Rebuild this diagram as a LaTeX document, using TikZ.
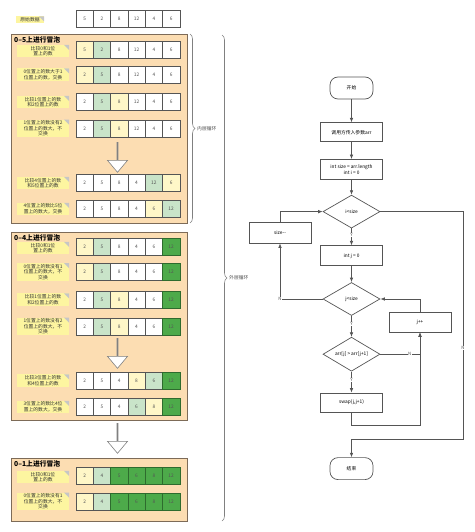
\documentclass[tikz,border=0pt]{standalone}
\usepackage{fontspec}
\setmainfont{Noto Sans CJK SC}
\usetikzlibrary{positioning,shapes.geometric,shapes.arrows,decorations.pathreplacing,arrows.meta}

\definecolor{boxfill}{HTML}{FCDDB2}
\definecolor{boxline}{HTML}{7D6B58}
\definecolor{notefill}{HTML}{FDF5A0}
\definecolor{celly}{HTML}{FFF7C8}
\definecolor{cellg}{HTML}{C9E4C9}
\definecolor{celld}{HTML}{4DAA4A}
\definecolor{celldk}{HTML}{2E6B2E}
\definecolor{linegray}{HTML}{555555}

\newcommand\smallcjk{\fontsize{4.8}{5.6}\selectfont}
\newcommand\cellrow[3]{%
  \foreach \v/\c [count=\k] in {#3}
    \node (#1-\k) [cell, \c] at ({67.35+17.3*\k}, #2) {\v};
}

\begin{document}
\begin{tikzpicture} [
    x=1pt, y=-1pt,
    cell/.style   = {draw=linegray, line width=0.6pt,
                     minimum width=17.3pt, minimum height=17pt,
                     inner sep=0pt, text=linegray, font=\smallcjk},
    cw/.style     = {fill=white},
    cy/.style     = {fill=celly},
    cg/.style     = {fill=cellg},
    cd/.style     = {fill=celld, draw=celldk},
    stage/.style  = {draw=boxline, fill=boxfill, line width=0.8pt,
                     inner sep=0pt},
    stagetitle/.style = {anchor=north west, inner sep=0pt,
                     font=\fontsize{6.8}{8}\selectfont\bfseries},
    note/.style   = {fill=notefill, text width=50pt, align=center,
                     inner sep=1pt, font=\smallcjk, text=black!80,
                     path picture={\fill[gray!45]
                       ([xshift=-5pt]path picture bounding box.north east) --
                       (path picture bounding box.north east) --
                       ([yshift=-5pt]path picture bounding box.north east) -- cycle;}},
    step arrow/.style = {single arrow, shape border rotate=270, draw=gray,
                     fill=white, line width=0.6pt, minimum height=30pt,
                     minimum width=20pt, single arrow head extend=5.5pt,
                     single arrow tip angle=80, inner sep=0pt},
    brace/.style  = {draw=gray, line width=0.6pt, decorate,
                     decoration={brace, amplitude=5pt}},
    side/.style   = {right, inner sep=1pt, font=\smallcjk, text=black!70},
    term/.style   = {draw=linegray, line width=0.7pt, rounded corners=8pt,
                     minimum width=43pt, minimum height=22pt, font=\smallcjk},
    proc/.style   = {draw=linegray, line width=0.7pt, minimum width=62pt,
                     minimum height=19pt, align=center, font=\smallcjk},
    dec/.style    = {draw=linegray, line width=0.7pt, diamond, aspect=1.7,
                     minimum width=57pt, minimum height=33pt, inner sep=0pt,
                     font=\smallcjk},
    arr/.style    = {draw=linegray, line width=0.7pt,
                     -{Latex[length=4.5pt,width=3.6pt]}},
    lbl/.style    = {fill=white, inner sep=0.5pt, text=linegray,
                     font=\fontsize{4.4}{5}\selectfont}
]
\useasboundingbox (0,0) rectangle (474,532);

% original data
\node (norig) [note, text width=26pt] at (30,19.5) {原始数据};
\cellrow{orig}{18.5}{5/cw,2/cw,8/cw,12/cw,4/cw,6/cw}

% pass 0-5
\node (boxa) [stage, minimum width=176pt, minimum height=189pt] at (99,128.5) {};
\node (na1) [note] at (43,51)    {比较0和1位\\置上的数};
\cellrow{a1}{50}{5/cy,2/cg,8/cw,12/cw,4/cw,6/cw}
\node (na2) [note] at (43,74.5)  {0位置上的数大于1\\位置上的数，交换};
\cellrow{a2}{74.5}{2/cy,5/cg,8/cw,12/cw,4/cw,6/cw}
\node (na3) [note] at (43,102)   {比较1位置上的数\\和2位置上的数};
\cellrow{a3}{102}{2/cw,5/cg,8/cy,12/cw,4/cw,6/cw}
\node (na4) [note] at (43,128.5) {1位置上的数没有2\\位置上的数大，不\\交换};
\cellrow{a4}{128.5}{2/cw,5/cg,8/cy,12/cw,4/cw,6/cw}
\node (sa) [step arrow] at (117.5,157) {};
\node (na5) [note] at (43,183)   {比较4位置上的数\\和5位置上的数};
\cellrow{a5}{183}{2/cw,5/cw,8/cw,4/cw,12/cg,6/cy}
\node (na6) [note] at (43,209)   {4位置上的数比5位\\置上的数大，交换};
\cellrow{a6}{209}{2/cw,5/cw,8/cw,4/cw,6/cy,12/cg}
\node (ta) [stagetitle] at (14,36) {0–5上进行冒泡};

% pass 0-4
\node (boxb) [stage, minimum width=176pt, minimum height=188pt] at (99,326) {};
\node (nb1) [note] at (43,248)   {比较0和1位\\置上的数};
\cellrow{b1}{247}{2/cy,5/cg,8/cw,4/cw,6/cw,12/cd}
\node (nb2) [note] at (43,272)   {0位置上的数没有1\\位置上的数大，不\\交换};
\cellrow{b2}{272}{2/cy,5/cg,8/cw,4/cw,6/cw,12/cd}
\node (nb3) [note] at (43,299.5) {比较1位置上的数\\和2位置上的数};
\cellrow{b3}{299.5}{2/cw,5/cg,8/cy,4/cw,6/cw,12/cd}
\node (nb4) [note] at (43,326.5) {1位置上的数没有2\\位置上的数大，不\\交换};
\cellrow{b4}{326.5}{2/cw,5/cg,8/cy,4/cw,6/cw,12/cd}
\node (sb) [step arrow] at (117.5,353) {};
\node (nb5) [note] at (43,380.5) {比较3位置上的数\\和4位置上的数};
\cellrow{b5}{380.5}{2/cw,5/cw,4/cw,8/cy,6/cg,12/cd}
\node (nb6) [note] at (43,407)   {3位置上的数比4位\\置上的数大，交换};
\cellrow{b6}{407}{2/cw,5/cw,4/cw,6/cg,8/cy,12/cd}
\node (tb) [stagetitle] at (14,234) {0–4上进行冒泡};

\node (sc) [step arrow] at (117.5,438) {};

% pass 0-1
\node (boxc) [stage, minimum width=176pt, minimum height=63pt] at (99,489.5) {};
\node (nc1) [note] at (43,477)   {比较0和1位\\置上的数};
\cellrow{c1}{476}{2/cy,4/cg,5/cd,6/cd,8/cd,12/cd}
\node (nc2) [note] at (43,501.5) {0位置上的数没有1\\位置上的数大，不\\交换};
\cellrow{c2}{501.5}{2/cy,4/cg,5/cd,6/cd,8/cd,12/cd}
\node (tc) [stagetitle] at (14,460) {0–1上进行冒泡};

% braces
\draw[brace] (190,34) -- (190,223);
\node (inner) [side] at (196,128.5) {内层循环};
\draw[brace] (222,35) -- (222,521);
\node (outer) [side] at (228,278) {外层循环};

% flow chart
\node (start) [term] at (351.5,88) {开始};
\node (call) [proc, below=23pt of start] {调用方传入参数arr};
\node (init) [proc, below=17pt of call, minimum height=20pt] {int size = arr.length\\int i = 0};
\node (dI) [dec, below=15pt of init] {i<size};
\node (initj) [proc, below=17pt of dI, minimum height=20pt] {int j = 0};
\node (dJ) [dec, below=16pt of initj] {j<size};
\node (dCmp) [dec, below=21pt of dJ, minimum height=34pt] {arr[j] > arr[j+1]};
\node (swap) [proc, below=21pt of dCmp] {swap(j,j+1)};
\node (stop) [term, below=45pt of swap] {结束};
\node (sizedec) [proc, minimum height=21pt] at (280,232.5) {size-{}-};
\node (jinc) [proc, minimum height=20pt] at (420,322) {j++};
\coordinate (rgt) at (463,439);

\draw[arr] (start) -- (call);
\draw[arr] (call) -- (init);
\draw[arr] (init) -- (dI);
\draw[arr] (dI) -- node[lbl, pos=0.4] {Y} (initj);
\draw[arr] (initj) -- (dJ);
\draw[arr] (dJ) -- node[lbl, pos=0.4] {Y} (dCmp);
\draw[arr] (dCmp) -- node[lbl, pos=0.4] {Y} (swap);
\draw[arr] (dJ.west) -| node[lbl, pos=0.5] {N} (sizedec.south);
\draw[arr] (sizedec.north) |- (dI.west);
\draw[arr] (dCmp.east) -| node[lbl, pos=0.37] {N} (jinc.south);
\draw[arr] (swap.south) -- ++(0,13) -| (jinc.south);
\draw[arr] (jinc.north) |- (dJ.east);
\draw[arr] (dI.east) -| node[lbl, pos=0.8] {N} (rgt) -| (stop.north);
\end{tikzpicture}
\end{document}
